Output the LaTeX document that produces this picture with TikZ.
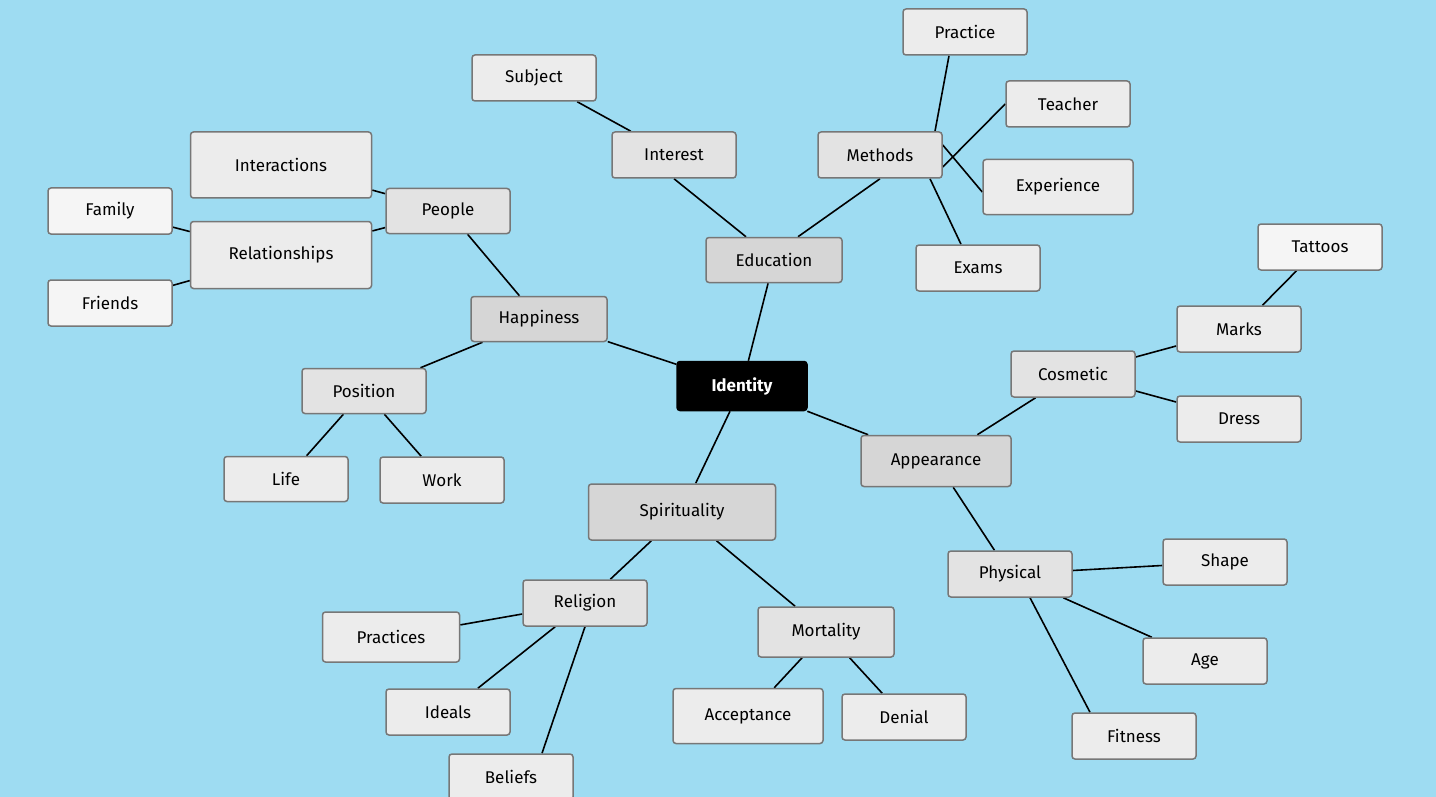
\documentclass[tikz,border=0pt]{standalone}
\usepackage{fontspec}
\setmainfont{Fira Sans}
\usetikzlibrary{backgrounds}
\definecolor{bg}{HTML}{9EDCF2}
\definecolor{l1}{HTML}{D6D6D6}
\definecolor{l2}{HTML}{E3E3E3}
\definecolor{l3}{HTML}{ECECEC}
\definecolor{l4}{HTML}{F5F5F5}
\definecolor{bd}{HTML}{777777}
\begin{document}
\begin{tikzpicture}[x=1pt,y=-1pt,
 b/.style={draw=bd,line width=1.5pt,rounded corners=3pt,minimum width=124pt,minimum height=46pt,inner sep=2pt,font=\fontsize{17}{20}\selectfont},
 c1/.style={b,fill=l1}, c2/.style={b,fill=l2}, c3/.style={b,fill=l3}, c4/.style={b,fill=l4},
 e/.style={line width=1.6pt}]
\useasboundingbox (0,0) rectangle (1436,797);
\node[b,fill=black,draw=black,text=white,font=\fontsize{17}{20}\selectfont\bfseries,minimum width=130pt,minimum height=49pt] (id) at (742,386) {Identity};
\node[c1,minimum width=136pt,minimum height=45pt] (edu) at (774,260) {Education};
\node[c2] (int) at (674,155) {Interest};
\node[c3] (sub) at (534,78) {Subject};
\node[c2] (met) at (880,155) {Methods};
\node[c3] (pra) at (965,32) {Practice};
\node[c3] (tea) at (1068,104) {Teacher};
\node[c3,minimum width=150pt,minimum height=55pt] (exp) at (1058,187) {Experience};
\node[c3] (exa) at (978,268) {Exams};
\node[c1,minimum width=136pt,minimum height=45pt] (hap) at (539,319) {Happiness};
\node[c2,minimum height=45pt] (peo) at (448,211) {People};
\node[c3,minimum width=181pt,minimum height=66pt] (inter) at (281,165) {Interactions};
\node[c3,minimum width=181pt,minimum height=67pt] (rel) at (281,255) {Relationships};
\node[c4] (fam) at (110,211) {Family};
\node[c4] (fri) at (110,303) {Friends};
\node[c2,minimum height=45pt] (pos) at (364,391) {Position};
\node[c3,minimum height=45pt] (life) at (286,479) {Life};
\node[c3] (work) at (442,480) {Work};
\node[c1,minimum width=187pt,minimum height=56pt] (spi) at (682,512) {Spirituality};
\node[c2] (reli) at (585,603) {Religion};
\node[c3,minimum width=137pt,minimum height=50pt] (prs) at (391,637) {Practices};
\node[c3] (ide) at (448,712) {Ideals};
\node[c3] (bel) at (511,777) {Beliefs};
\node[c2,minimum width=136pt,minimum height=50pt] (mor) at (826,632) {Mortality};
\node[c3,minimum width=150pt,minimum height=55pt] (acc) at (748,716) {Acceptance};
\node[c3] (den) at (904,717) {Denial};
\node[c1,minimum width=150pt,minimum height=51pt] (app) at (936,461) {Appearance};
\node[c2] (cos) at (1073,374) {Cosmetic};
\node[c3] (mar) at (1239,329) {Marks};
\node[c4] (tat) at (1320,247) {Tattoos};
\node[c3] (dre) at (1239,419) {Dress};
\node[c2] (phy) at (1010,574) {Physical};
\node[c3] (sha) at (1225,562) {Shape};
\node[c3] (age) at (1205,661) {Age};
\node[c3] (fit) at (1134,736) {Fitness};
\begin{scope}[on background layer]
\fill[bg] (0,0) rectangle (1436,797);
\foreach \a/\b in {id/edu,int/sub,
 id/hap,hap/peo,peo/inter,peo/rel,rel/fam,rel/fri,hap/pos,pos/life,pos/work,
 id/spi,spi/reli,reli/prs,reli/ide,spi/mor,mor/acc,mor/den,
 id/app,app/cos,cos/mar,mar/tat,cos/dre,app/phy,phy/sha,phy/age}
 \draw[e] (\a) -- (\b);
\draw[e] ([xshift=-28pt]edu.north) -- (int.south);
\draw[e] ([xshift=24pt]edu.north) -- (met.south);
\draw[e] ([xshift=55pt]met.north) -- ([xshift=-16pt]pra.south);
\draw[e] ([yshift=-12pt]met.east) -- (tea.west);
\draw[e] ([yshift=10pt]met.east) -- ([yshift=-5pt]exp.west);
\draw[e] ([xshift=50pt]met.south) -- ([xshift=-17pt]exa.north);
\draw[e] (reli.south) -- ([xshift=31pt]bel.north);
\draw[e] ([xshift=20pt]phy.south) -- ([xshift=-44pt]fit.north);
\end{scope}
\end{tikzpicture}
\end{document}
